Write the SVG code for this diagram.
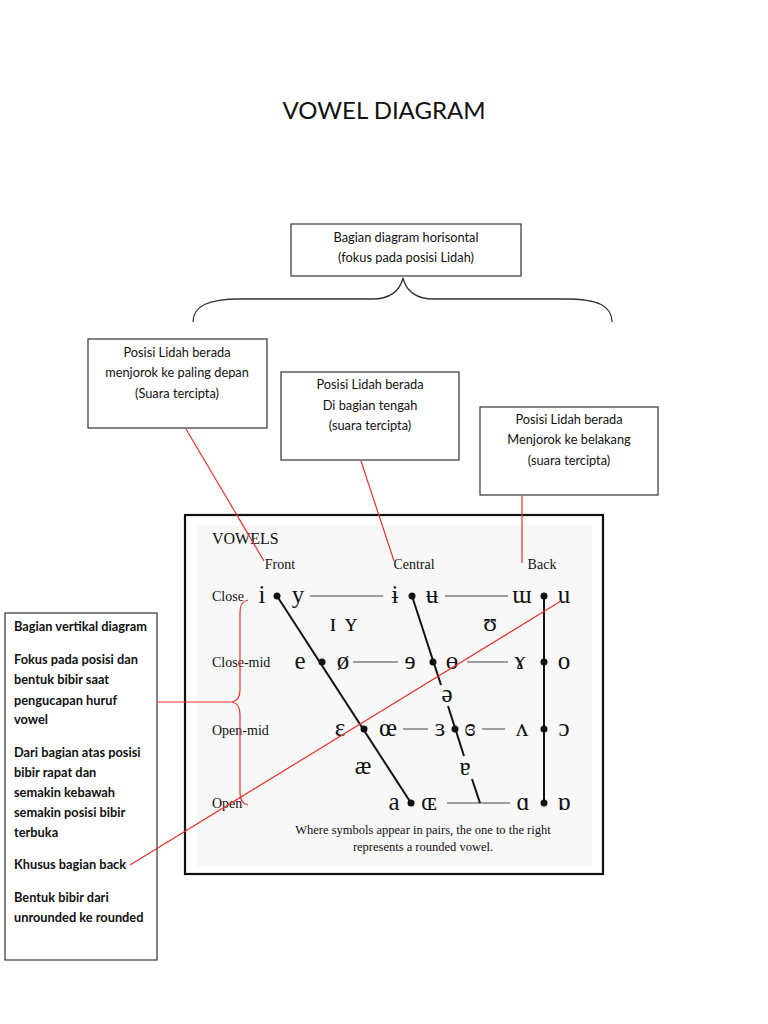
<svg xmlns="http://www.w3.org/2000/svg" width="768" height="1024" viewBox="0 0 768 1024">
<style>
.box{fill:#fff;stroke:#333;stroke-width:1.2}
.t{font-family:Lato,"Liberation Sans",sans-serif;font-size:12.8px;fill:#111;text-anchor:middle}
.tb{font-family:Lato,"Liberation Sans",sans-serif;font-size:12.8px;font-weight:bold;fill:#111}
.red{fill:none;stroke:#e8322c;stroke-width:1.2}
.s{font-family:"Liberation Serif","DejaVu Serif",serif;fill:#111}
.ipa{font-family:"Liberation Serif","DejaVu Serif",serif;font-size:25px;fill:#111;text-anchor:middle}
.lbl{font-family:"Liberation Serif","DejaVu Serif",serif;font-size:14px;fill:#111}
.hl{stroke:#444;stroke-width:1}
.bl{stroke:#111;stroke-width:2;fill:none}
</style>
<rect width="768" height="1024" fill="#fff"/>
<text x="384" y="119" text-anchor="middle" font-family="Lato,'Liberation Sans',sans-serif" font-size="24" fill="#111">VOWEL DIAGRAM</text>

<g id="top-box">
<rect class="box" x="291" y="224" width="230" height="52"/>
<text class="t" x="406" y="242">Bagian diagram horisontal</text>
<text class="t" x="406" y="262">(fokus pada posisi Lidah)</text>
</g>
<g id="brace-top">
<path d="M193,322 C193,306 208,299 240,299 L372,299 C392,299 400,290 403,278 C406,290 414,299 434,299 L566,299 C598,299 612,306 612,322" fill="none" stroke="#333" stroke-width="1.3"/>
</g>

<g id="box-front">
<rect class="box" x="88" y="339" width="179" height="89"/>
<text class="t" x="177" y="357">Posisi Lidah berada</text>
<text class="t" x="177" y="377">menjorok ke paling depan</text>
<text class="t" x="177" y="398">(Suara tercipta)</text>
</g>
<g id="box-central">
<rect class="box" x="281" y="372" width="178" height="88"/>
<text class="t" x="370" y="389">Posisi Lidah berada</text>
<text class="t" x="370" y="410">Di bagian tengah</text>
<text class="t" x="370" y="430">(suara tercipta)</text>
</g>
<g id="box-back">
<rect class="box" x="480" y="407" width="178" height="88"/>
<text class="t" x="569" y="424">Posisi Lidah berada</text>
<text class="t" x="569" y="444">Menjorok ke belakang</text>
<text class="t" x="569" y="465">(suara tercipta)</text>
</g>

<g id="vowel-chart">
<rect x="185" y="515" width="418" height="359" fill="#fff" stroke="#111" stroke-width="2.2"/>
<rect x="197" y="525" width="395" height="341" fill="#f8f8f8"/>
<text class="s" x="212" y="544" font-size="16">VOWELS</text>
<text class="lbl" x="280" y="569" text-anchor="middle">Front</text>
<text class="lbl" x="414" y="569" text-anchor="middle">Central</text>
<text class="lbl" x="542" y="569" text-anchor="middle">Back</text>
<text class="lbl" x="212" y="601">Close</text>
<text class="lbl" x="212" y="667">Close-mid</text>
<text class="lbl" x="212" y="735">Open-mid</text>
<text class="lbl" x="212" y="808">Open</text>

<g>
<line class="hl" x1="310" y1="596" x2="383" y2="596"/>
<line class="hl" x1="445" y1="596" x2="508" y2="596"/>
<line class="hl" x1="353" y1="662" x2="398" y2="662"/>
<line class="hl" x1="467" y1="662" x2="508" y2="662"/>
<line class="hl" x1="403" y1="729" x2="428" y2="729"/>
<line class="hl" x1="482" y1="729" x2="505" y2="729"/>
<line class="hl" x1="447" y1="803" x2="510" y2="803"/>
<line class="bl" x1="277" y1="596" x2="411" y2="803"/>
<line class="bl" x1="412" y1="596" x2="441" y2="685"/>
<line class="bl" x1="448" y1="706" x2="464" y2="756"/>
<line class="bl" x1="472" y1="779" x2="480" y2="803"/>
<line class="bl" x1="544" y1="596" x2="544" y2="803"/>
</g>
<g fill="#111">
<circle cx="277" cy="596" r="3.5"/><circle cx="412" cy="596" r="3.5"/><circle cx="544" cy="596" r="3.5"/>
<circle cx="322" cy="662" r="3.5"/><circle cx="433" cy="662" r="3.5"/><circle cx="544" cy="662" r="3.5"/>
<circle cx="364" cy="729" r="3.5"/><circle cx="455" cy="729" r="3.5"/><circle cx="544" cy="729" r="3.5"/>
<circle cx="411" cy="803" r="3.5"/><circle cx="544" cy="803" r="3.5"/>
</g>
<text class="ipa" x="262" y="603">i</text>
<text class="ipa" x="298" y="603">y</text>
<text class="ipa" x="395" y="603">ɨ</text>
<text class="ipa" x="432" y="603">ʉ</text>
<text class="ipa" x="522" y="603">ɯ</text>
<text class="ipa" x="564" y="603">u</text>
<text class="ipa" x="333" y="631" font-size="21">ɪ</text>
<text class="ipa" x="351" y="631" font-size="21">ʏ</text>
<text class="ipa" x="490" y="631" font-size="21">ʊ</text>
<text class="ipa" x="300" y="669">e</text>
<text class="ipa" x="343" y="669">ø</text>
<text class="ipa" x="410" y="669">ɘ</text>
<text class="ipa" x="452" y="669">ɵ</text>
<text class="ipa" x="520" y="669">ɤ</text>
<text class="ipa" x="564" y="669">o</text>
<text class="ipa" x="447" y="702" font-size="22">ə</text>
<text class="ipa" x="340" y="736">ɛ</text>
<text class="ipa" x="388" y="736">œ</text>
<text class="ipa" x="440" y="736">ɜ</text>
<text class="ipa" x="470" y="736">ɞ</text>
<text class="ipa" x="522" y="736">ʌ</text>
<text class="ipa" x="564" y="736">ɔ</text>
<text class="ipa" x="363" y="774" font-size="22">æ</text>
<text class="ipa" x="465" y="775" font-size="22">ɐ</text>
<text class="ipa" x="394" y="810">a</text>
<text class="ipa" x="429" y="810">ɶ</text>
<text class="ipa" x="523" y="810">ɑ</text>
<text class="ipa" x="564" y="810">ɒ</text>
<text class="s" x="423" y="834" font-size="12.5" text-anchor="middle">Where symbols appear in pairs, the one to the right</text>
<text class="s" x="423" y="851" font-size="12.5" text-anchor="middle">represents a rounded vowel.</text>
</g>

<g id="left-box">
<rect class="box" x="5" y="613" width="152" height="347"/>
<text class="tb" x="14" y="631">Bagian vertikal diagram</text>
<text class="tb" x="14" y="664">Fokus pada posisi dan</text>
<text class="tb" x="14" y="684">bentuk  bibir saat</text>
<text class="tb" x="14" y="705">pengucapan huruf</text>
<text class="tb" x="14" y="724">vowel</text>
<text class="tb" x="14" y="757">Dari bagian atas posisi</text>
<text class="tb" x="14" y="777">bibir rapat dan</text>
<text class="tb" x="14" y="797">semakin kebawah</text>
<text class="tb" x="14" y="817">semakin posisi bibir</text>
<text class="tb" x="14" y="837">terbuka</text>
<text class="tb" x="14" y="869">Khusus bagian back</text>
<text class="tb" x="14" y="902">Bentuk bibir dari</text>
<text class="tb" x="14" y="922">unrounded ke rounded</text>
</g>

<g id="connectors">
<line class="red" x1="186" y1="429" x2="264" y2="561"/>
<line class="red" x1="361" y1="461" x2="394" y2="561"/>
<line class="red" x1="522" y1="496" x2="522" y2="563"/>
<line class="red" x1="157" y1="702" x2="232" y2="702"/>
<path class="red" d="M248,600 C242,601 240,605 240,613 L240,690 C240,698 237,701 232,702 C237,703 240,706 240,714 L240,793 C240,801 243,804 248,805"/>
<line class="red" x1="130" y1="865" x2="561" y2="601"/>
</g>
</svg>
